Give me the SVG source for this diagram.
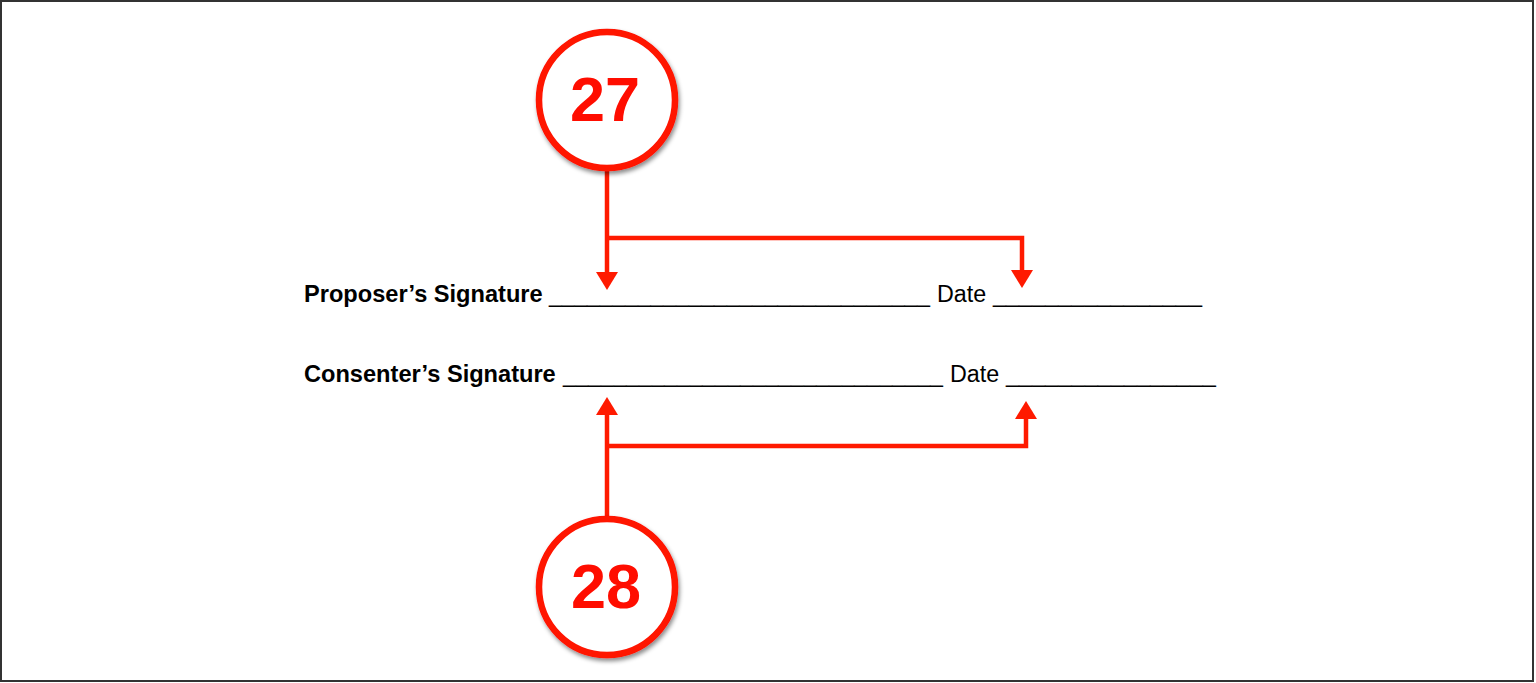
<svg xmlns="http://www.w3.org/2000/svg" width="1536" height="683" viewBox="0 0 1536 683">
<defs>
<style>
.lbl{font-family:"Liberation Sans",Arial,sans-serif;font-size:23.3px;fill:#000}
.b{font-weight:bold;font-size:23.6px}
.num{font-family:"Liberation Sans",Arial,sans-serif;font-size:63px;font-weight:bold;fill:#ff0d00;text-anchor:middle}
.ring{fill:#fff;stroke:#ff1200;stroke-width:6.5;filter:url(#sh)}
.con{fill:none;stroke:#ff1a00;stroke-width:4.5;stroke-linejoin:miter}
</style>
<filter id="sh" x="-20%" y="-20%" width="140%" height="140%">
<feDropShadow dx="1.5" dy="3" stdDeviation="2" flood-color="#000" flood-opacity="0.45"/>
</filter>
<marker id="ah" markerUnits="userSpaceOnUse" markerWidth="18" markerHeight="22" viewBox="0 0 18 22" refX="0" refY="11" orient="auto">
<path d="M0,0 L18,11 L0,22 z" fill="#ff1a00"/>
</marker>
</defs>
<rect x="1" y="1" width="1532" height="680" fill="#fff" stroke="#333" stroke-width="2"/>
<g id="connectors">
<path class="con" d="M607,168 V272" marker-end="url(#ah)"/>
<path class="con" d="M607,238 H1022 V270" marker-end="url(#ah)"/>
<path class="con" d="M607,517 V415" marker-end="url(#ah)"/>
<path class="con" d="M607,446 H1026 V419" marker-end="url(#ah)"/>
</g>
<g id="node-27">
<circle class="ring" cx="607" cy="100" r="68"/>
<text class="num" x="605" y="121">27</text>
</g>
<g id="node-28">
<circle class="ring" cx="607" cy="587" r="68"/>
<text class="num" x="606" y="608">28</text>
</g>
<g id="row-proposer">
<text class="lbl b" x="304" y="302">Proposer’s Signature</text>
<text class="lbl" x="549" y="302" textLength="381" lengthAdjust="spacingAndGlyphs">______________________________</text>
<text class="lbl" x="937" y="302">Date</text>
<text class="lbl" x="993" y="302" textLength="209" lengthAdjust="spacingAndGlyphs">________________</text>
</g>
<g id="row-consenter">
<text class="lbl b" x="304" y="382">Consenter’s Signature</text>
<text class="lbl" x="563" y="382" textLength="380" lengthAdjust="spacingAndGlyphs">______________________________</text>
<text class="lbl" x="950" y="382">Date</text>
<text class="lbl" x="1006" y="382" textLength="210" lengthAdjust="spacingAndGlyphs">________________</text>
</g>
</svg>
